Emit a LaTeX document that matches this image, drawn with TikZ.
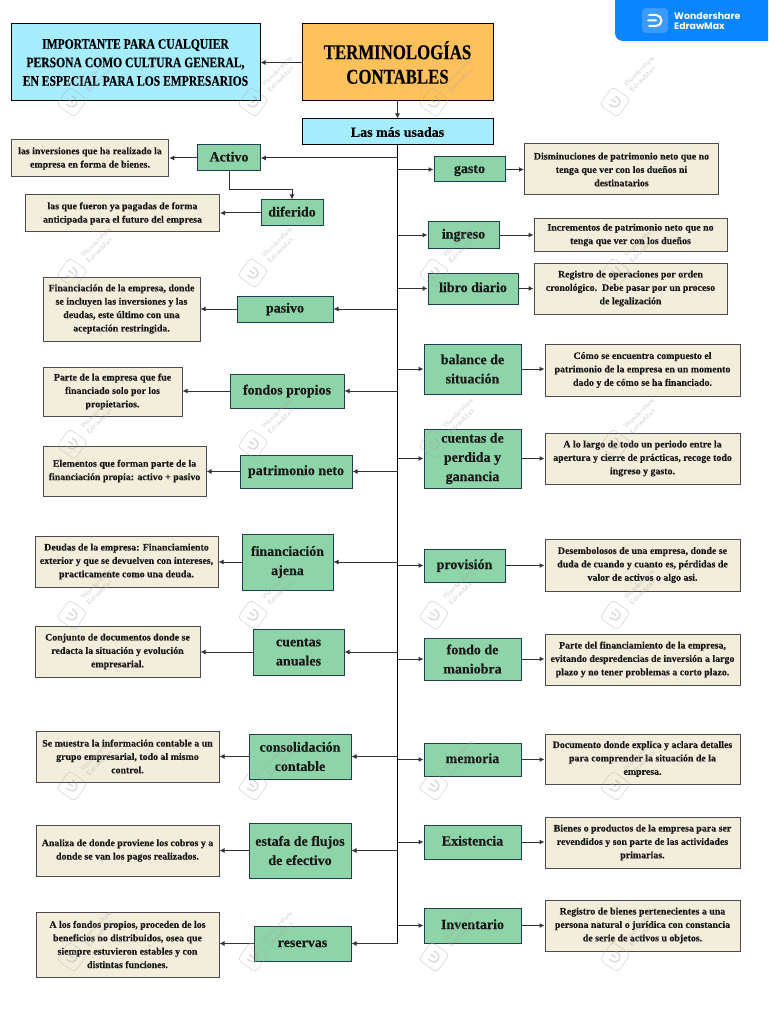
\documentclass[tikz,border=0pt]{standalone}
\usepackage{fontspec}
\setmainfont{Liberation Serif}[BoldFeatures={FakeBold=0.25}]
\newfontfamily\angosta{Liberation Serif}[BoldFeatures={FakeStretch=0.8,FakeBold=0.25}]
\newfontfamily\logofont{Poppins}
\usetikzlibrary{arrows.meta}
\definecolor{celeste}{HTML}{A6EDFF}
\definecolor{naranja}{HTML}{FFC15C}
\definecolor{verde}{HTML}{8DD4A8}
\definecolor{crema}{HTML}{F3EEDC}
\definecolor{azullogo}{HTML}{0A84FF}
\definecolor{azulicono}{HTML}{3D9BFF}
\definecolor{bordeverde}{HTML}{1F4050}
\tikzset{
  caja/.style={draw,inner sep=0pt,align=center,line width=1pt},
  titulo/.style={caja,fill=verde,draw=bordeverde,text=black!90,font=\bfseries\fontsize{14}{19.2}\selectfont},
  una/.style={text height=10pt,text depth=3pt},
  detalle/.style={caja,fill=crema,draw=black!70,text=black!90,font=\bfseries\fontsize{9.9}{13.4}\selectfont},
  flecha/.style={-{Latex[length=5pt,width=5pt]},black!80,line width=1pt},
  marca/.style={black!35,opacity=0.4}
}
\begin{document}
\begin{tikzpicture}[x=1pt,y=-1pt]
  \useasboundingbox (0,0) rectangle (768,1024);

  % top
  \node[caja,fill=celeste,minimum width=249,minimum height=77,font=\angosta\bfseries\fontsize{14.5}{18.5}\selectfont] (importante) at (135.5,62.5)
    {IMPORTANTE PARA CUALQUIER\\PERSONA COMO CULTURA GENERAL,\\EN ESPECIAL PARA LOS EMPRESARIOS};
  \node[caja,fill=naranja,minimum width=191,minimum height=77,font=\angosta\bfseries\fontsize{21}{24.5}\selectfont] (terminologias) at (397.5,62.5)
    {TERMINOLOGÍAS\\CONTABLES};
  \node[caja,fill=celeste,minimum width=191,minimum height=26,font=\bfseries\fontsize{14}{16}\selectfont] (usadas) at (397.5,132) {Las más usadas};

  % left column
  \node[titulo,una,minimum width=62.5,minimum height=26] (activo) at (229,158) {Activo};
  \node[detalle,minimum width=157.5,minimum height=37] (dactivo) at (90,158.5) {las inversiones que ha realizado la\\empresa en forma de bienes.};
  \node[titulo,una,minimum width=62,minimum height=26] (diferido) at (292,213) {diferido};
  \node[detalle,minimum width=194,minimum height=37] (ddiferido) at (122.5,213.5) {las que fueron ya pagadas de forma\\anticipada para el futuro del empresa};
  \node[titulo,una,minimum width=96,minimum height=26] (pasivo) at (285,309) {pasivo};
  \node[detalle,minimum width=157,minimum height=64] (dpasivo) at (121.5,309) {Financiación de la empresa, donde\\se incluyen las inversiones y las\\deudas, este último con una\\aceptación restringida.};
  \node[titulo,una,minimum width=114,minimum height=34] (fondos) at (287,391) {fondos propios};
  \node[detalle,minimum width=139,minimum height=49] (dfondos) at (112.5,391.5) {Parte de la empresa que fue\\financiado solo por los\\propietarios.};
  \node[titulo,una,minimum width=112,minimum height=33] (patrimonio) at (296,471.5) {patrimonio neto};
  \node[detalle,minimum width=163,minimum height=50] (dpatrimonio) at (124.5,471) {Elementos que forman parte de la\\financiación propia: activo + pasivo};
  \node[titulo,minimum width=91,minimum height=56] (financiacion) at (287.5,562) {financiación\\ajena};
  \node[detalle,minimum width=183,minimum height=51] (dfinanciacion) at (126.5,561.5) {Deudas de la empresa: Financiamiento\\exterior y que se devuelven con intereses,\\practicamente como una deuda.};
  \node[titulo,minimum width=91,minimum height=46] (anuales) at (298.5,652) {cuentas\\anuales};
  \node[detalle,minimum width=165,minimum height=51] (danuales) at (117.5,651.5) {Conjunto de documentos donde se\\redacta la situación y evolución\\empresarial.};
  \node[titulo,minimum width=102,minimum height=45] (consolidacion) at (300,756.5) {consolidación\\contable};
  \node[detalle,minimum width=183,minimum height=51] (dconsolidacion) at (127.5,756.5) {Se muestra la información contable a un\\grupo empresarial, todo al mismo\\control.};
  \node[titulo,minimum width=102,minimum height=55] (estafa) at (300,850.5) {estafa de flujos\\de efectivo};
  \node[detalle,minimum width=183,minimum height=51] (destafa) at (127.5,850.5) {Analiza de donde proviene los cobros y a\\donde se van los pagos realizados.};
  \node[titulo,una,minimum width=97,minimum height=35] (reservas) at (302.5,943.5) {reservas};
  \node[detalle,minimum width=183,minimum height=65] (dreservas) at (127.5,944.5) {A los fondos propios, proceden de los\\beneficios no distribuidos, osea que\\siempre estuvieron estables y con\\distintas funciones.};

  % right column
  \node[titulo,una,minimum width=71,minimum height=25] (gasto) at (469.5,169.5) {gasto};
  \node[detalle,minimum width=194,minimum height=51] (dgasto) at (621.5,169.5) {Disminuciones de patrimonio neto que no\\tenga que ver con los dueños ni\\destinatarios};
  \node[titulo,una,minimum width=71,minimum height=26] (ingreso) at (463.5,235) {ingreso};
  \node[detalle,minimum width=193,minimum height=32] (dingreso) at (630.5,235) {Incrementos de patrimonio neto que no\\tenga que ver con los dueños};
  \node[titulo,una,minimum width=90,minimum height=31] (libro) at (473,288.5) {libro diario};
  \node[detalle,minimum width=193,minimum height=51] (dlibro) at (630.5,288.5) {Registro de operaciones por orden\\cronológico.\ \ Debe pasar por un proceso\\de legalización};
  \node[titulo,minimum width=97,minimum height=50] (balance) at (472.5,369) {balance de\\situación};
  \node[detalle,minimum width=195,minimum height=52] (dbalance) at (642.5,370) {Cómo se encuentra compuesto el\\patrimonio de la empresa en un momento\\dado y de cómo se ha financiado.};
  \node[titulo,minimum width=97,minimum height=59] (perdida) at (472.5,458.5) {cuentas de\\perdida y\\ganancia};
  \node[detalle,minimum width=195,minimum height=51] (dperdida) at (642.5,458.5) {A lo largo de todo un periodo entre la\\apertura y cierre de prácticas, recoge todo\\ingreso y gasto.};
  \node[titulo,una,minimum width=81,minimum height=33] (provision) at (464.5,565.5) {provisión};
  \node[detalle,minimum width=195,minimum height=52] (dprovision) at (642.5,565) {Desembolosos de una empresa, donde se\\duda de cuando y cuanto es, pérdidas de\\valor de activos o algo asi.};
  \node[titulo,minimum width=97,minimum height=42] (maniobra) at (472.5,659) {fondo de\\maniobra};
  \node[detalle,minimum width=195,minimum height=51] (dmaniobra) at (642.5,659.5) {Parte del financiamiento de la empresa,\\evitando despredencias de inversión a largo\\plazo y no tener problemas a corto plazo.};
  \node[titulo,una,minimum width=97,minimum height=33] (memoria) at (472.5,759.5) {memoria};
  \node[detalle,minimum width=195,minimum height=50] (dmemoria) at (642.5,759) {Documento donde explica y aclara detalles\\para comprender la situación de la\\empresa.};
  \node[titulo,una,minimum width=97,minimum height=34] (existencia) at (472.5,842) {Existencia};
  \node[detalle,minimum width=195,minimum height=51] (dexistencia) at (642.5,842.5) {Bienes o productos de la empresa para ser\\revendidos y son parte de las actividades\\primarias.};
  \node[titulo,una,minimum width=97,minimum height=35] (inventario) at (472.5,925.5) {Inventario};
  \node[detalle,minimum width=195,minimum height=51] (dinventario) at (642.5,925.5) {Registro de bienes pertenecientes a una\\persona natural o jurídica con constancia\\de serie de activos u objetos.};

  % connectors
  \draw[flecha] (terminologias.west) -- (importante.east);
  \draw[flecha] (terminologias.south) -- (usadas.north);
  \draw[black,line width=1pt] (usadas.south) -- (usadas.south |- reservas.east);
  \foreach \n in {activo,pasivo,fondos,patrimonio,financiacion,anuales,consolidacion,estafa,reservas}
    \draw[flecha] (usadas.south |- \n.east) -- (\n.east);
  \foreach \n in {gasto,ingreso,libro,balance,perdida,provision,maniobra,memoria,existencia,inventario}
    \draw[flecha] (usadas.south |- \n.west) -- (\n.west);
  \foreach \n in {activo,diferido,pasivo,fondos,patrimonio,financiacion,anuales,consolidacion,estafa,reservas}
    \draw[flecha] (\n.west) -- (\n.west -| d\n.east);
  \foreach \n in {gasto,ingreso,libro,balance,perdida,provision,maniobra,memoria,existencia,inventario}
    \draw[flecha] (\n.east) -- (\n.east -| d\n.west);
  \draw[flecha] (activo.south) -- ++(0,18) -| (diferido.north);

  % logo
  \fill[azullogo] (615,0) -- (615,33) arc (180:90:8) -- (768,41) -- (768,0) -- cycle;
  \fill[azulicono,rounded corners=4pt] (642,8) rectangle (668,33);
  \draw[white,line width=2pt,line cap=round] (649,15) -- (656,15) arc (-90:90:5.5) -- (649,26) (648,20.5) -- (656,20.5);
  \node[white,align=left,inner sep=0pt,anchor=west,font=\logofont\bfseries\fontsize{9.4}{10.4}\selectfont] (logo) at (674,21) {Wondershare\\EdrawMax};

  % watermark
  \foreach \x in {72,253,434,615}
    \foreach \y in {102,273,444,615,786,957} {
      \begin{scope}[shift={(\x,\y)},rotate=-35]
        \draw[marca,line width=0.7pt,rounded corners=4pt] (-11,-11) rectangle (11,11);
        \draw[marca,line width=1.5pt,line cap=round] (-3,-5) -- (0,-5) arc (-90:90:5) -- (-3,5) (-4,0) -- (1,0);
      \end{scope}
      \node[marca,rotate=45,align=left,inner sep=0pt,text opacity=0.5,font=\sffamily\fontsize{7}{8}\selectfont] (wm\x\y) at (\x+27,\y-28) {Wondershare\\EdrawMax};
    }
\end{tikzpicture}
\end{document}
